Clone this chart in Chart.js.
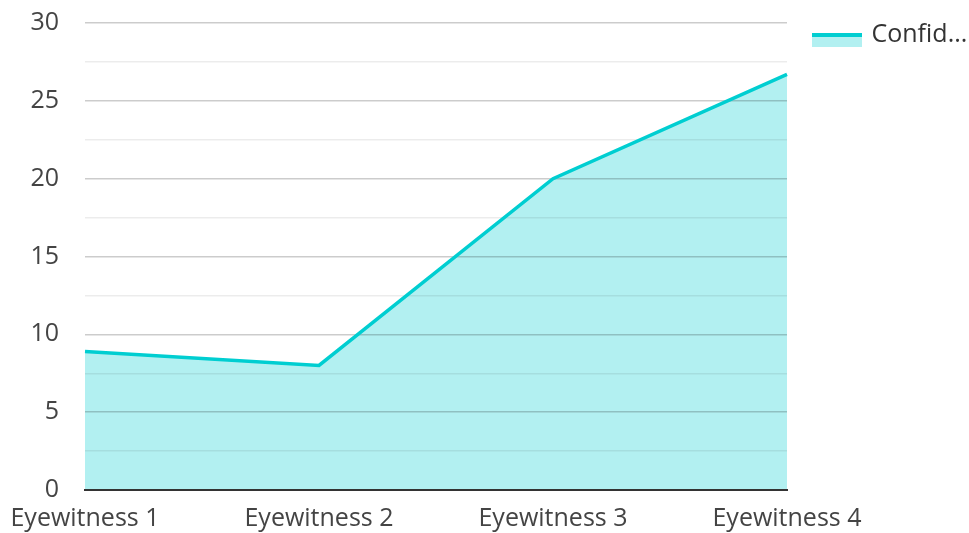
<!DOCTYPE html>
<html><head><meta charset="utf-8">
<script src="https://cdn.jsdelivr.net/npm/chart.js@4"></script>
<style>html,body{margin:0;padding:0;background:#fff}#w{width:969px;height:533px}</style>
</head><body><div id="w"><canvas id="c" width="969" height="533"></canvas></div>
<script>
const categories = ["Eyewitness 1", "Eyewitness 2", "Eyewitness 3", "Eyewitness 4"];
const confidenceValues = [8.9, 8.0, 20.0, 26.7];
const seriesLabel = "Confid...";
const yMin = 0, yMax = 30, yStep = 2.5, yLabelStep = 5;

const LINE = "#00CED1";
const FILL = "rgba(0,206,209,0.30)";

// legend icon (with transparent left margin): thick line over filled box
const icon = document.createElement("canvas");
icon.width = 77; icon.height = 30;
const ic = icon.getContext("2d");
ic.fillStyle = FILL; ic.fillRect(27, 13, 50, 14);
ic.fillStyle = LINE; ic.fillRect(27, 13, 50, 4);

Chart.defaults.font.family = "'Open Sans', 'Noto Sans', sans-serif";
Chart.defaults.color = "#444";

new Chart(document.getElementById("c"), {
  type: "line",
  data: {
    labels: categories,
    datasets: [{
      label: seriesLabel,
      data: confidenceValues,
      borderColor: LINE,
      backgroundColor: FILL,
      borderWidth: 3.5,
      fill: "origin",
      tension: 0,
      pointRadius: 0,
      pointHoverRadius: 0
    }]
  },
  options: {
    responsive: false,
    animation: false,
    layout: { padding: { top: 21.5, right: 0, left: 0, bottom: 0 } },
    plugins: {
      filler: { drawTime: "beforeDraw" },
      tooltip: { enabled: false },
      legend: {
        position: "right",
        align: "start",
        maxWidth: 182,
        labels: {
          usePointStyle: true,
          pointStyle: icon,
          pointStyleWidth: 71,
          padding: 1,
          color: "#333",
          font: { size: 25 },
          generateLabels: (chart) => [{
            text: seriesLabel, pointStyle: icon, fillStyle: FILL, strokeStyle: LINE, lineWidth: 0, datasetIndex: 0, hidden: false, fontColor: "#333"
          }]
        }
      }
    },
    scales: {
      x: {
        offset: false,
        grid: { display: false, drawTicks: false },
        border: { display: true, color: "#333", width: 2 },
        ticks: { font: { size: 25 }, color: "#444", padding: 14, maxRotation: 0, autoSkip: false },
        afterFit: (s) => { s.height = 43; s.paddingLeft = 0; s.paddingRight = 0; }
      },
      y: {
        min: yMin, max: yMax,
        grid: {
          drawTicks: false,
          color: (ctx) => {
            const v = ctx.tick ? ctx.tick.value : 0;
            if (v === 0) return "rgba(0,0,0,0)";
            return (Math.abs(v % yLabelStep) < 1e-9) ? "rgba(0,0,0,0.2)" : "rgba(0,0,0,0.075)";
          },
          lineWidth: 1.5
        },
        border: { display: false },
        ticks: {
          stepSize: yStep,
          autoSkip: false,
          padding: 26,
          font: { size: 25 },
          color: "#444",
          callback: (v) => (Math.abs(v % yLabelStep) < 1e-9) ? v : ""
        },
        afterFit: (s) => { s.width = 85; s.paddingTop = 23; s.paddingBottom = 0; }
      }
    }
  }
});
</script></body></html>
